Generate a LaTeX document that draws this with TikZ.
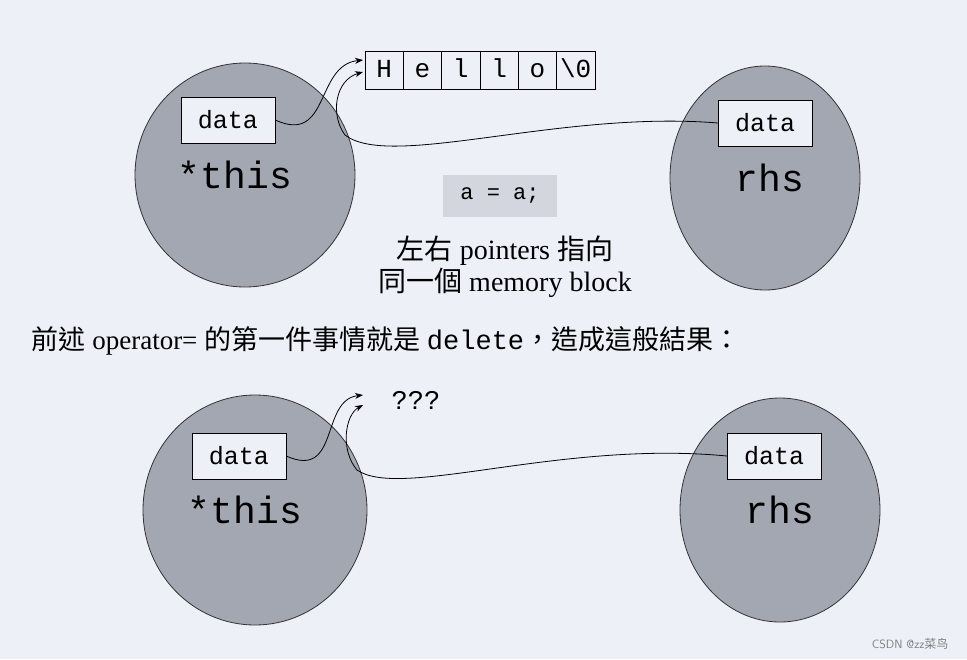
\documentclass[tikz,border=0pt]{standalone}
\usepackage{fontspec}
\setmainfont{Liberation Serif}
\setmonofont{Liberation Mono}
\newfontfamily\cjk{Noto Sans CJK TC}
\usetikzlibrary{arrows.meta}
\definecolor{bgcol}{HTML}{EDF0F7}
\definecolor{ballcol}{HTML}{A3A7B2}
\definecolor{codecol}{HTML}{D3D6DE}
\tikzset{
  ball/.style={draw=black!80, fill=ballcol, thick},
  databox/.style={draw=black, fill=bgcol, minimum width=94pt, minimum height=46pt, font=\ttfamily\fontsize{25}{25}\selectfont},
  cell/.style={draw=black, fill=bgcol, minimum width=38.3pt, minimum height=38pt, inner sep=0pt, text height=17pt, text depth=2pt, font=\ttfamily\fontsize{26}{26}\selectfont},
  bigmono/.style={font=\ttfamily\fontsize{38}{38}\selectfont},
  ptr/.style={-{Stealth[length=8pt,width=6pt]}, thick}
}
\begin{document}
\begin{tikzpicture}[x=1pt,y=-1pt]
  \useasboundingbox (0,0) rectangle (967,659);
  \fill[bgcol] (0,0) rectangle (967,659);

  % upper picture
  \draw[ball] (245,175) ellipse [x radius=110, y radius=112];
  \draw[ball] (765,178) ellipse [x radius=95, y radius=112];
  \node[databox] (data1) at (228,120) {data};
  \node[databox] (data2) at (765,123) {data};
  \node[bigmono] (this1) at (235,175) {*this};
  \node[bigmono] (rhs1) at (770,178) {rhs};
  % string cells
  \foreach \c [count=\i] in {H,e,l,l,o,\textbackslash 0}
    \node[cell] (c\i) at ({365+38.3*(\i-0.5)},70) {\c};
  \coordinate (t1) at (363,60);
  \coordinate (t2) at (363,72);
  \draw[ptr] (data1.east) .. controls (330,145) and (315,65) .. (t1);
  \draw[ptr] (data2.west) .. controls (560,110) and (390,170) .. (345,135)
                          .. controls (330,115) and (335,80) .. (t2);
  \node[fill=codecol, minimum width=114pt, minimum height=42pt, font=\ttfamily\fontsize{22}{22}\selectfont] (code) at (500,196) {a = a;};
  \node[font=\fontsize{28}{28}\selectfont, align=center] (note) at (505,267)
    {{\cjk 左右} pointers {\cjk 指向}\\[2pt]{\cjk 同一個} memory block};
  \node[anchor=west, font=\fontsize{27}{27}\selectfont] (mid) at (28,341)
    {{\cjk 前述} operator= {\cjk 的第一件事情就是} \texttt{delete}{\cjk ，造成這般結果：}};

  % lower picture
  \draw[ball] (255,510) ellipse [x radius=112, y radius=115];
  \draw[ball] (780,510) ellipse [x radius=100, y radius=112];
  \node[databox] (data3) at (239,456) {data};
  \node[databox] (data4) at (774,456) {data};
  \node[bigmono] (this2) at (245,510) {*this};
  \node[bigmono] (rhs2) at (780,510) {rhs};
  \node[font=\ttfamily\fontsize{27}{27}\selectfont] (qq) at (416,400) {???};
  \coordinate (t3) at (363,395);
  \coordinate (t4) at (363,405);
  \draw[ptr] (data3.east) .. controls (340,480) and (320,400) .. (t3);
  \draw[ptr] (data4.west) .. controls (560,440) and (400,500) .. (357,470)
                          .. controls (340,450) and (345,415) .. (t4);

  \node[anchor=east, text=gray, font=\sffamily\fontsize{12}{12}\selectfont] (mark) at (952,644) {CSDN @zz{\cjk 菜鸟}};
\end{tikzpicture}
\end{document}
